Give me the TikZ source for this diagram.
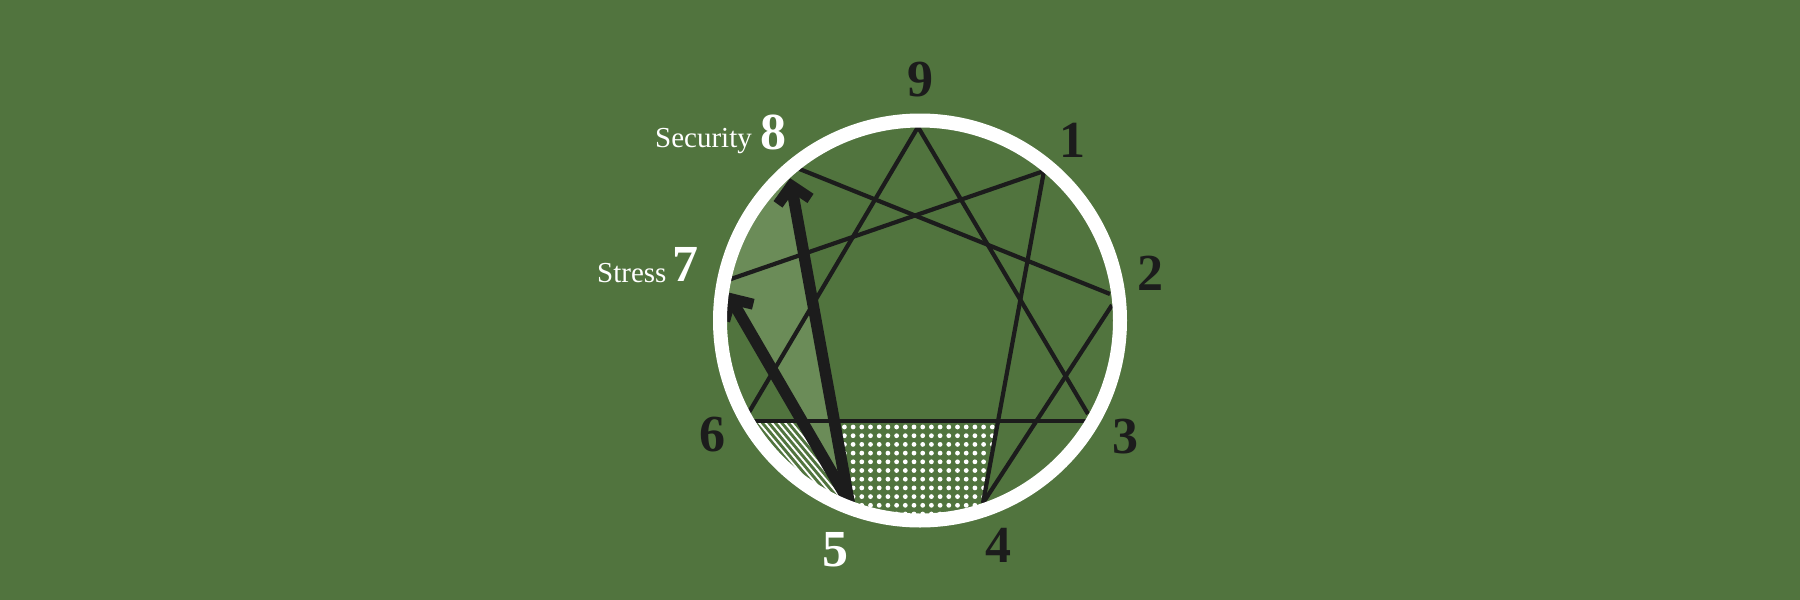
\documentclass[tikz,border=0pt]{standalone}
\usepackage{fontspec}
\setmainfont{Liberation Serif}
\usetikzlibrary{calc}
\definecolor{bg}{HTML}{51743E}
\definecolor{lightg}{HTML}{6B8C58}
\definecolor{ink}{HTML}{1C1C1C}
\begin{document}
\begin{tikzpicture}[x=1pt,y=-1pt,
  thinline/.style={draw=ink,line width=4.2pt},
  shaft/.style={draw=ink,line width=11.5pt,line cap=round},
  headstyle/.style={draw=ink,line width=11pt,line join=miter,line cap=butt},
  numlabel/.style={font=\fontsize{52}{52}\selectfont\bfseries,inner sep=0pt,text=ink},
  wnumlabel/.style={numlabel,text=white},
  wordlabel/.style={font=\fontsize{29}{29}\selectfont,inner sep=0pt,text=white,anchor=base west},
  ring/.style={draw=white,line width=14pt},
  hatchline/.style={draw=white,line width=1.8pt},
  dot/.style={fill=white}]
% background / bounding box
\fill[bg] (0,0) rectangle (1800,600);
\useasboundingbox (0,0) rectangle (1800,600);

% named points
\coordinate (c) at (920,320.5);
\coordinate (p9) at (918,127);
\coordinate (p1) at (1044,171);
\coordinate (p2a) at (1110,294);
\coordinate (p2b) at (1112,305);
\coordinate (p3) at (1088,414);
\coordinate (p3h) at (1086,421);
\coordinate (p4) at (983,503);
\coordinate (p5) at (849,502);
\coordinate (p6) at (748,414);
\coordinate (p6h) at (752,421);
\coordinate (p7) at (728,280);
\coordinate (p8) at (797,168);
\coordinate (T7) at (727,292);
\coordinate (T8) at (790,178);

% light region (arc 8-7, lines 7-5, 5-8)
\begin{scope}
  \clip (c) circle[radius=194pt];
  \fill[lightg] (p5) -- ($(p5)!1.1!(T8)$) -- (690,140) -- ($(p5)!1.15!(T7)$) -- cycle;
\end{scope}

% dotted region
\begin{scope}
  \clip (c) circle[radius=193.5pt];
  \clip ($(p5)!-0.2!(T8)$) -- ($(p5)!0.255!(T8)$) -- (998,421) -- ($(p4)!-0.15!(p1)$) -- cycle;
  \foreach \j in {0,...,12} {
    \foreach \i in {0,...,20} {
      \fill[dot] ({827+\i*8.7}, {427+\j*8.7}) circle[radius=2.4pt];
    }
  }
\end{scope}

% hatched region
\begin{scope}
  \clip (c) circle[radius=193.5pt];
  \clip (690,421) -- ($(p5)!0.39!(T7)$) -- ($(p5)!-0.12!(T7)$) -- (690,540) -- cycle;
  \foreach \k in {-30,...,30} {
    \draw[hatchline] ({740+\k*6.5}, 400) -- ++(110,132);
  }
\end{scope}

% enneagram lines
\draw[thinline] (p9) -- (p3);
\draw[thinline] (p9) -- (p6);
\draw[thinline] (p6h) -- (p3h);
\draw[thinline] (p1) -- (p4);
\draw[thinline] (p4) -- (p2b);
\draw[thinline] (p2a) -- (p8);
\draw[thinline] (p7) -- (p1);

% arrows 5 -> 7 and 5 -> 8
\coordinate (c7) at ($(T7)!7.8pt!(p5)$);
\coordinate (c8) at ($(T8)!7.8pt!(p5)$);
\draw[shaft,shorten >=4pt] (p5) -- (c7);
\draw[shaft,shorten >=4pt] (p5) -- (c8);
\draw[headstyle] ($(c7)!23pt!46:(p5)$) -- (c7) -- ($(c7)!23pt!-46:(p5)$);
\draw[headstyle] ($(c8)!23pt!46:(p5)$) -- (c8) -- ($(c8)!23pt!-46:(p5)$);

% circle ring
\draw[ring] (c) circle[radius=200pt];

% labels
\node[numlabel] (l9) at (920,80) {9};
\node[numlabel] (l1) at (1072,140) {1};
\node[numlabel] (l2) at (1150,273) {2};
\node[numlabel] (l3) at (1125,437) {3};
\node[numlabel] (l4) at (998,545) {4};
\node[wnumlabel] (l5) at (835,550) {5};
\node[numlabel] (l6) at (712,435) {6};
\node[wnumlabel] (l7) at (685,264) {7};
\node[wnumlabel] (l8) at (773,132) {8};
\node[wordlabel] (sec) at (655,147) {Security};
\node[wordlabel] (str) at (597,282) {Stress};
\end{tikzpicture}
\end{document}
